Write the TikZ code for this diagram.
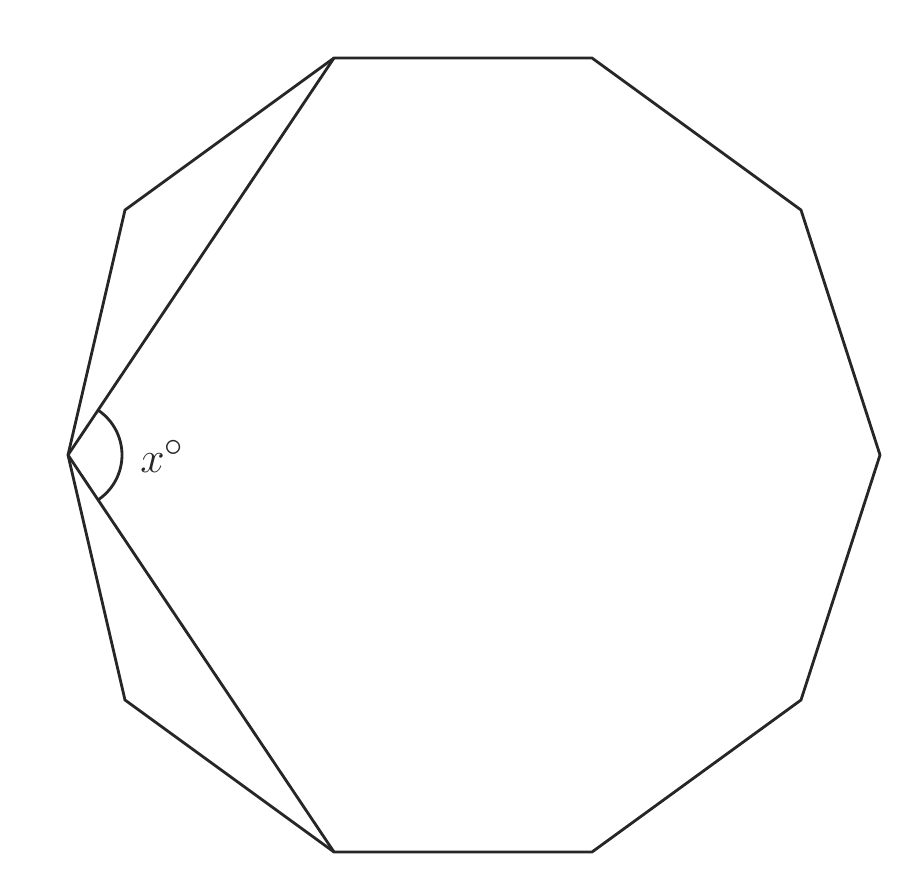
\documentclass[tikz,border=0pt]{standalone}
\usetikzlibrary{calc}
\begin{document}
\begin{tikzpicture}[x=0.02cm,y=-0.02cm,
  edge/.style={line width=1.6pt,draw=black!85,line join=miter},
  lbl/.style={font=\fontsize{28}{32}\selectfont,text=black!85,inner sep=0pt}]
\useasboundingbox (0,0) rectangle (907,880);
\coordinate (A) at (68,455);
\coordinate (B) at (125,210);
\coordinate (C) at (334,58);
\coordinate (D) at (592,58);
\coordinate (E) at (801,210);
\coordinate (F) at (880,455);
\coordinate (G) at (801,700);
\coordinate (H) at (592,852);
\coordinate (I) at (334,852);
\coordinate (J) at (125,700);
\draw[edge] (A) -- (B) -- (C) -- (D) -- (E) -- (F) -- (G) -- (H) -- (I) -- (J) -- cycle;
\draw[edge] (A) -- (C);
\draw[edge] (A) -- (I);
% angle arc
\draw[edge] ($(A)+(-56.2:54)$) arc[start angle=-56.2,end angle=56.2,radius=54];
\node[lbl,anchor=base west] (x) at (140,472) {$x^\circ$};
\end{tikzpicture}
\end{document}
